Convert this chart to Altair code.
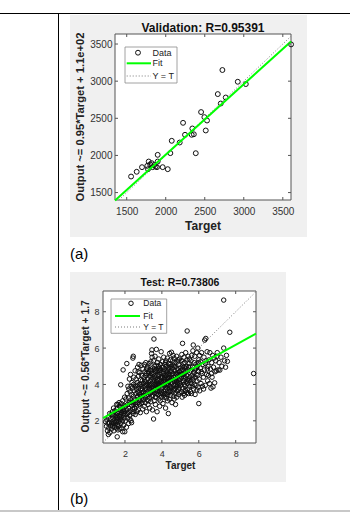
import altair as alt
import pandas as pd

FONT = "Liberation Sans"

# ---------------- panel (a): validation ----------------
val_title = "Validation: R=0.95391"
val_ylabel = "Output ~= 0.95*Target + 1.1e+02"
val_slope = 0.95
val_intercept = 110.0
val_xdomain = [1350, 3605]
val_ydomain = [1400, 3635]
val_ticks = [1500, 2000, 2500, 3000, 3500]
val_target = [3606, 2726, 2923, 3026, 2667, 2769, 2705, 2453, 2495, 2529, 2513, 2222,
              2341, 2247, 2333, 2360, 2077, 2179, 2385, 2059, 1897, 1897, 1888, 1961,
              2026, 1833, 1854, 1820, 1782, 1773, 1764, 1696, 1628, 1556, 1800, 1870]
val_output = [3495, 3150, 2992, 2961, 2826, 2780, 2699, 2584, 2516, 2470, 2336, 2439,
              2363, 2278, 2278, 2285, 2197, 2174, 2030, 2031, 2008, 1918, 1842, 1842,
              1815, 1842, 1873, 1896, 1918, 1815, 1860, 1842, 1780, 1716, 1880, 1850]

# ---------------- panel (b): test ----------------
test_title = "Test: R=0.73806"
test_ylabel = "Output ~= 0.56*Target + 1.7"
test_slope = 0.56
test_intercept = 1.7
test_xdomain = [0.81, 9.1]
test_ydomain = [0.78, 9.14]
test_ticks = [2, 4, 6, 8]
test_points = [
    (0.95,1.95),(1.0,1.7),(1.02,2.05),(1.05,1.45),(1.08,1.85),(1.1,2.2),(1.12,1.6),(1.15,1.9),
    (1.18,1.35),(1.2,2.1),(1.22,1.75),(1.25,2.35),(1.27,1.55),(1.3,1.95),(1.32,2.5),(1.33,1.7),
    (1.35,2.15),(1.37,1.85),(1.4,1.45),(1.4,2.3),(1.42,2.0),(1.44,1.65),(1.45,2.55),(1.46,1.9),
    (1.48,2.2),(1.5,1.75),(1.5,2.45),(1.28,1.85),(1.17,2.4),(1.38,2.7),(1.1,1.25),
    (1.52,1.95),(1.53,2.3),(1.55,1.6),(1.56,2.65),(1.58,1.12),(1.58,2.05),(1.6,1.8),(1.6,2.4),
    (1.62,2.9),(1.63,2.15),(1.65,1.7),(1.66,2.5),(1.68,1.95),(1.7,2.25),(1.7,2.8),(1.72,1.55),
    (1.73,2.05),(1.75,2.6),(1.76,2.35),(1.77,3.98),(1.78,1.85),(1.8,2.95),(1.8,2.2),(1.82,1.6),
    (1.83,2.45),(1.85,2.75),(1.86,2.0),(1.88,3.1),(1.88,1.4),(1.9,4.8),(1.9,2.3),(1.92,2.6),
    (1.93,1.75),(1.95,2.85),(1.96,2.15),(1.98,3.3),(1.99,1.4),(2.0,2.5),(1.55,2.9),(1.68,3.0),
    (1.62,1.5),(1.84,2.55),(1.74,2.1),(1.94,2.4),(1.57,2.2),
    (2.02,2.0),(2.03,2.8),(2.05,3.2),(2.06,2.35),(2.08,1.65),(2.1,5.15),(2.1,2.6),(2.12,3.5),
    (2.13,2.15),(2.15,2.9),(2.16,3.9),(2.18,2.45),(2.2,3.25),(2.2,1.85),(2.22,2.7),(2.24,4.3),
    (2.25,3.0),(2.26,2.3),(2.28,3.6),(2.3,2.55),(2.3,4.55),(2.32,3.15),(2.33,2.0),(2.35,2.85),
    (2.36,1.9),(2.37,3.45),(2.38,4.1),(2.4,2.65),(2.4,3.8),(2.42,3.05),(2.43,5.45),(2.44,2.4),
    (2.45,5.55),(2.45,2.5),(2.46,3.35),(2.48,2.9),(2.48,4.4),(2.5,3.65),(2.14,2.4),(2.27,2.1),
    (2.39,3.0),(2.21,3.75),(2.47,4.0),(2.33,3.9),
    (2.52,2.7),(2.53,3.2),(2.55,4.75),(2.56,2.35),(2.57,3.9),(2.58,3.0),(2.6,3.5),(2.6,4.3),
    (2.62,2.8),(2.63,3.75),(2.65,2.5),(2.66,3.3),(2.67,4.1),(2.68,4.95),(2.7,3.0),(2.7,3.6),
    (2.72,2.6),(2.73,4.45),(2.74,3.85),(2.75,3.2),(2.76,5.1),(2.78,2.9),(2.78,4.0),(2.8,3.45),
    (2.8,4.65),(2.82,3.1),(2.83,2.45),(2.84,3.7),(2.85,4.25),(2.86,3.35),(2.88,5.05),(2.88,2.95),
    (2.9,3.9),(2.9,4.5),(2.92,3.55),(2.93,3.0),(2.94,4.2),(2.95,3.75),(2.96,2.65),(2.97,4.85),
    (2.98,3.4),(3.0,4.05),(3.0,3.15),(2.64,3.95),(2.71,4.7),(2.87,4.0),(2.59,2.9),(2.77,3.55),
    (2.91,3.25),(2.69,3.35),
    (3.02,3.6),(3.03,4.4),(3.04,2.8),(3.05,5.1),(3.06,3.9),(3.08,3.3),(3.08,4.7),(3.1,4.15),
    (3.1,3.0),(3.12,3.75),(3.13,5.2),(3.14,4.5),(3.15,3.4),(3.16,2.5),(3.17,4.0),(3.18,4.85),
    (3.2,3.6),(3.2,3.15),(3.22,4.3),(3.23,5.0),(3.24,3.85),(3.25,2.9),(3.26,4.6),(3.27,3.45),
    (3.28,4.1),(3.3,3.7),(3.3,5.15),(3.32,3.25),(3.33,4.45),(3.34,2.7),(3.35,3.95),(3.36,4.8),
    (3.37,3.5),(3.38,4.2),(3.4,3.05),(3.4,5.25),(3.42,3.8),(3.43,4.6),(3.44,3.35),(3.45,4.05),
    (3.46,5.9),(3.47,3.65),(3.48,4.35),(3.49,2.6),(3.5,4.9),(3.5,3.9),(3.07,4.25),(3.19,3.95),
    (3.29,4.7),(3.39,4.5),(3.11,3.5),(3.21,4.9),(3.31,4.0),(3.41,3.55),(3.45,4.75),(3.26,3.1),
    (3.36,3.75),(3.15,4.6),(3.47,5.5),(3.44,5.7),
    (3.52,3.4),(3.53,4.2),(3.54,5.3),(3.55,3.75),(3.56,4.6),(3.57,6.5),(3.55,2.1),(3.58,3.1),
    (3.6,4.0),(3.6,4.85),(3.62,3.55),(3.63,5.55),(3.64,4.35),(3.65,2.9),(3.66,3.85),(3.67,4.7),
    (3.68,5.05),(3.7,3.3),(3.7,4.15),(3.7,5.93),(3.72,3.65),(3.73,4.5),(3.74,2.5),(3.75,3.95),
    (3.76,5.2),(3.77,4.3),(3.78,3.45),(3.8,4.75),(3.8,3.8),(3.82,4.05),(3.83,5.4),(3.84,3.2),
    (3.85,4.55),(3.86,3.6),(3.87,4.9),(3.88,2.8),(3.9,4.25),(3.9,3.95),(3.92,5.1),(3.93,3.5),
    (3.94,4.4),(3.95,3.75),(3.96,5.8),(3.96,4.65),(3.98,3.3),(4.0,4.1),(4.0,4.95),(3.61,4.45),
    (3.69,3.95),(3.79,4.2),(3.89,4.75),(3.99,3.6),(3.64,3.3),(3.74,4.85),(3.84,4.45),(3.94,4.15),
    (3.59,5.0),(3.71,3.5),(3.81,5.0),(3.91,3.1),(3.66,4.05),(3.76,3.6),(3.86,4.0),(3.97,4.35),
    (3.53,3.8),(3.63,4.75),(3.73,4.0),(3.83,3.9),(3.93,4.8),(3.58,4.3),
    (4.02,3.5),(4.03,4.4),(4.04,5.25),(4.05,3.85),(4.06,2.95),(4.08,4.7),(4.09,4.1),(4.1,3.6),
    (4.1,5.5),(4.12,4.3),(4.13,3.3),(4.14,4.85),(4.15,3.95),(4.16,5.1),(4.18,4.5),(4.19,3.7),
    (4.2,4.2),(4.2,2.7),(4.22,5.3),(4.23,4.0),(4.24,3.45),(4.25,4.65),(4.26,5.0),(4.28,3.8),
    (4.29,4.35),(4.3,3.1),(4.3,5.45),(4.32,4.8),(4.33,3.95),(4.34,4.55),(4.35,2.4),(4.35,3.55),
    (4.36,5.15),(4.38,4.15),(4.39,3.75),(4.4,4.95),(4.4,3.2),(4.42,5.71),(4.42,4.4),(4.43,3.9),
    (4.44,4.7),(4.45,3.4),(4.46,5.35),(4.47,4.1),(4.48,3.65),(4.5,4.55),(4.5,5.0),(4.07,4.0),
    (4.17,3.5),(4.27,4.5),(4.37,4.9),(4.47,4.25),(4.11,4.6),(4.21,3.85),(4.31,4.15),(4.41,3.6),
    (4.05,4.95),(4.15,4.4),(4.25,3.25),(4.35,4.3),(4.45,5.1),(4.09,3.4),(4.19,5.2),(4.29,4.05),
    (4.39,4.6),(4.49,3.85),(4.13,4.15),(4.23,4.75),(4.33,3.45),(4.43,4.25),
    (4.52,5.77),(4.52,3.8),(4.53,4.35),(4.55,3.0),(4.56,4.9),(4.57,4.1),(4.58,5.3),(4.6,3.6),
    (4.6,4.6),(4.62,5.05),(4.63,3.95),(4.64,4.4),(4.65,3.35),(4.66,5.45),(4.68,4.2),(4.69,3.75),
    (4.7,4.75),(4.7,5.2),(4.72,3.5),(4.73,4.45),(4.74,2.9),(4.75,4.0),(4.76,5.0),(4.78,3.85),
    (4.79,4.6),(4.8,5.55),(4.8,3.3),(4.82,4.3),(4.83,3.65),(4.84,4.85),(4.85,4.1),(4.86,5.25),
    (4.88,3.95),(4.89,4.5),(4.9,3.45),(4.9,5.1),(4.92,4.25),(4.93,3.8),(4.94,4.7),(4.95,5.4),
    (4.96,4.05),(4.98,3.55),(5.0,4.55),(5.0,4.9),(4.54,4.7),(4.64,3.7),(4.74,4.3),(4.84,4.0),
    (4.94,4.35),(4.59,4.25),(4.69,4.95),(4.79,4.15),(4.89,5.35),(4.99,4.3),(4.61,5.6),(4.71,3.95),
    (4.81,4.55),(4.91,3.7),(4.67,3.2),(4.87,4.65),
    (5.02,3.95),(5.03,4.75),(5.05,5.3),(5.06,3.6),(5.07,4.4),(5.08,5.65),(5.1,4.1),(5.1,3.3),
    (5.12,6.26),(5.12,4.85),(5.14,3.8),(5.15,4.55),(5.16,5.15),(5.18,4.2),(5.19,3.5),(5.2,4.95),
    (5.2,5.5),(5.22,4.0),(5.23,3.4),(5.24,4.6),(5.25,5.2),(5.26,3.9),(5.28,4.35),(5.29,5.75),
    (5.3,4.7),(5.3,3.65),(5.32,5.0),(5.33,4.15),(5.34,3.55),(5.35,4.5),(5.36,5.35),(5.37,6.94),
    (5.38,4.05),(5.4,4.8),(5.4,3.75),(5.42,5.55),(5.43,4.3),(5.44,3.5),(5.45,4.95),(5.46,4.2),
    (5.48,5.15),(5.5,3.9),(5.5,4.65),(5.09,4.6),(5.19,4.45),(5.29,4.9),(5.39,4.25),(5.49,5.4),
    (5.13,5.0),(5.27,3.7),
    (5.52,4.4),(5.53,5.0),(5.55,3.6),(5.56,4.75),(5.58,5.3),(5.6,4.05),(5.6,3.5),(5.62,5.6),
    (5.63,4.5),(5.65,3.9),(5.66,4.95),(5.68,5.85),(5.7,4.25),(5.7,6.17),(5.72,3.75),(5.73,4.65),
    (5.75,5.2),(5.76,4.0),(5.78,5.55),(5.8,4.4),(5.8,3.45),(5.82,4.85),(5.84,5.1),(5.85,3.95),
    (5.86,4.55),(5.88,5.75),(5.9,4.2),(5.9,3.7),(5.92,5.0),(5.94,4.5),(5.95,6.0),(5.96,3.85),
    (5.98,4.75),(6.0,2.95),(6.0,5.35),(5.57,4.2),(5.67,4.35),(5.77,4.8),(5.87,4.9),(5.97,5.2),
    (6.02,4.3),(6.04,5.6),(6.05,3.65),(6.08,4.9),(6.1,5.25),(6.12,4.05),(6.15,5.75),(6.18,4.6),
    (6.2,3.9),(6.22,5.1),(6.25,4.4),(6.28,5.5),(6.3,4.8),(6.32,6.44),(6.35,3.95),(6.38,6.53),
    (6.4,5.3),(6.42,4.55),(6.45,5.8),(6.48,4.2),(6.5,5.0),(6.14,4.7),(6.26,3.75),(6.36,5.15),
    (6.46,4.85),
    (6.52,4.5),(6.55,5.35),(6.58,4.05),(6.6,5.75),(6.63,4.85),(6.66,3.8),(6.7,5.2),(6.72,4.4),
    (6.75,5.6),(6.77,3.87),(6.8,4.95),(6.83,5.45),(6.86,4.09),(6.88,4.7),(6.92,5.3),(6.95,4.75),
    (6.98,5.55),(6.68,4.6),
    (7.05,4.8),(7.1,5.2),(7.14,4.79),(7.2,5.5),(7.25,5.0),(7.35,8.64),(7.35,6.0),(7.4,5.3),
    (7.5,5.6),(7.55,5.27),(7.68,6.87),(7.45,4.95),(7.0,5.75),(8.97,4.6),
]
test_target = [p[0] for p in test_points]
test_output = [p[1] for p in test_points]

ONE = pd.DataFrame({"k": [0]})


def rect(x1, x2, y1, y2, color):
    return alt.Chart(ONE).mark_rect(color=color).encode(
        x=alt.value(x1), x2=alt.value(x2), y=alt.value(y1), y2=alt.value(y2))


def txt(s, x, y, size, weight="normal", angle=0, align="center",
        baseline="middle", color="#222222"):
    kw = dict(font=FONT, fontSize=size, fontWeight=weight, align=align,
              baseline=baseline, color=color)
    if angle:
        kw["angle"] = angle
    return alt.Chart(ONE).mark_text(**kw).encode(
        x=alt.value(x), y=alt.value(y), text=alt.value(s))


def hline(x1, x2, y, color, width=1.0, dash=None):
    kw = dict(color=color, strokeWidth=width)
    if dash:
        kw["strokeDash"] = dash
    return alt.Chart(ONE).mark_rule(**kw).encode(
        x=alt.value(x1), x2=alt.value(x2), y=alt.value(y))


def panel(c):
    W, H, x0 = c["W"], c["H"], c["x0"]
    xd, yd = c["xdom"], c["ydom"]
    xs = alt.Scale(domain=xd, range=[x0, W], nice=False, zero=False)
    ys = alt.Scale(domain=yd, nice=False, zero=False)
    xaxis = alt.Axis(values=c["ticks"], title=None, domain=False, ticks=False, grid=False,
                     labelFont=FONT, labelFontSize=c["lab"], labelColor="#333333",
                     labelPadding=c["xpad"], labelFlush=False, labelOverlap=False,
                     format="d", zindex=1)
    yaxis = alt.Axis(values=c["ticks"], title=None, domain=False, ticks=False, grid=False,
                     labelFont=FONT, labelFontSize=c["lab"], labelColor="#333333",
                     labelPadding=c["ypad"], labelOverlap=False, format="d",
                     offset=-x0, zindex=1)

    def X(f):
        return alt.X(f, scale=xs, axis=xaxis)

    def Y(f):
        return alt.Y(f, scale=ys, axis=yaxis)

    layers = list(c["deco"])
    layers.append(rect(*c["bg"], "#f0f0f0"))

    frame_df = pd.DataFrame({"x0": [xd[0]], "x1": [xd[1]], "y0": [yd[0]], "y1": [yd[1]]})
    layers.append(alt.Chart(frame_df).mark_rect(fill="white", stroke="#555555", strokeWidth=1)
                  .encode(x=X("x0:Q"), x2="x1:Q", y=Y("y0:Q"), y2="y1:Q"))

    lo, hi = max(xd[0], yd[0]), min(xd[1], yd[1])
    ident = pd.DataFrame({"x": [lo, hi], "y": [lo, hi]})
    layers.append(alt.Chart(ident).mark_line(color="#7a7a7a", strokeWidth=1, strokeDash=[1, 2])
                  .encode(x=X("x:Q"), y=Y("y:Q")))

    pts = pd.DataFrame({"x": c["target"], "y": c["output"]})
    layers.append(alt.Chart(pts).mark_point(shape="circle", filled=False, size=c["msize"],
                                            color="#111111", strokeWidth=1.0, opacity=1)
                  .encode(x=X("x:Q"), y=Y("y:Q")))

    fit = pd.DataFrame({"x": [xd[0], xd[1]],
                        "y": [c["slope"] * xd[0] + c["icpt"], c["slope"] * xd[1] + c["icpt"]]})
    layers.append(alt.Chart(fit).mark_line(color="#00ff00", strokeWidth=2)
                  .encode(x=X("x:Q"), y=Y("y:Q")))

    tk = pd.DataFrame({"t": c["ticks"]})
    tcol = "#555555"
    layers.append(alt.Chart(tk).mark_rule(color=tcol).encode(
        x=X("t:Q"), y=alt.value(H), y2=alt.value(H - 3)))
    layers.append(alt.Chart(tk).mark_rule(color=tcol).encode(
        x=X("t:Q"), y=alt.value(0), y2=alt.value(3)))
    layers.append(alt.Chart(tk).mark_rule(color=tcol).encode(
        y=Y("t:Q"), x=alt.value(x0), x2=alt.value(x0 + 3)))
    layers.append(alt.Chart(tk).mark_rule(color=tcol).encode(
        y=Y("t:Q"), x=alt.value(W), x2=alt.value(W - 3)))

    # legend
    lx1, lx2, ly1, ly2 = c["leg"]
    layers.append(alt.Chart(ONE).mark_rect(fill="white", stroke="#8a8a8a", strokeWidth=0.8)
                  .encode(x=alt.value(lx1), x2=alt.value(lx2), y=alt.value(ly1), y2=alt.value(ly2)))
    cx, cy, tx, r1, r2, fy, dy = c["legitems"]
    layers.append(alt.Chart(ONE).mark_point(shape="circle", filled=False, size=c["msize"],
                                            color="#111111", strokeWidth=1.0, opacity=1)
                  .encode(x=alt.value(cx), y=alt.value(cy)))
    layers.append(txt("Data", tx, cy, c["legfont"], align="left"))
    layers.append(hline(r1, r2, fy, "#00ff00", 2))
    layers.append(txt("Fit", tx, fy, c["legfont"], align="left"))
    layers.append(hline(r1, r2, dy, "#7a7a7a", 1, [1, 2]))
    layers.append(txt("Y = T", tx, dy, c["legfont"], align="left"))

    # titles
    t = c["title"]
    layers.append(txt(t[0], t[1], t[2], t[3], weight="bold", color="#111111"))
    t = c["ytitle"]
    layers.append(txt(t[0], t[1], t[2], t[3], weight="bold", angle=270))
    t = c["xtitle"]
    layers.append(txt(t[0], t[1], t[2], t[3], weight="bold"))
    t = c["tag"]
    layers.append(txt(t[0], t[1], t[2], 15, align="left", baseline="alphabetic", color="#000000"))

    return alt.layer(*layers).properties(width=W, height=H)


chart_a = panel(dict(
    W=176, H=166, x0=0, xdom=val_xdomain, ydom=val_ydomain, ticks=val_ticks,
    target=val_target, output=val_output, slope=val_slope, icpt=val_intercept,
    lab=10, xpad=6, ypad=3, msize=24,
    deco=[rect(-115, 235, -21, -20, "#000000"), rect(-57, -56, -21, 232, "#000000")],
    bg=(-45, 192, -19, 203),
    leg=(10, 62, 13, 49), legitems=(23, 18.7, 37.5, 11.7, 36, 29.3, 42), legfont=9,
    title=(val_title, 88, -6, 12), ytitle=(val_ylabel, -34, 83, 11.2),
    xtitle=("Target", 88, 192, 12), tag=("(a)", -45, 225),
))

chart_b = panel(dict(
    W=141, H=152, x0=-12, xdom=test_xdomain, ydom=test_ydomain, ticks=test_ticks,
    target=test_target, output=test_output, slope=test_slope, icpt=test_intercept,
    lab=9, xpad=6, ypad=4, msize=20,
    deco=[rect(-57, -56, -25, 221, "#000000"), rect(-115, 235, 219, 221, "#c8c8c8")],
    bg=(-45, 171, -19, 191),
    leg=(-4, 51.7, 8, 42.3), legitems=(16, 12.3, 28.3, 0, 25, 25, 36), legfont=8.5,
    title=(test_title, 65, -8.3, 10.5), ytitle=(test_ylabel, -29, 75.4, 10.3),
    xtitle=("Target", 65.5, 175, 10), tag=("(b)", -45, 213),
))

chart = (alt.vconcat(chart_a, chart_b, spacing=0)
         .properties(padding={"left": 0, "top": 13, "right": 0, "bottom": 0})
         .configure_view(stroke=None))

chart.save("out.html", embed_options={"renderer": "svg", "actions": False})
